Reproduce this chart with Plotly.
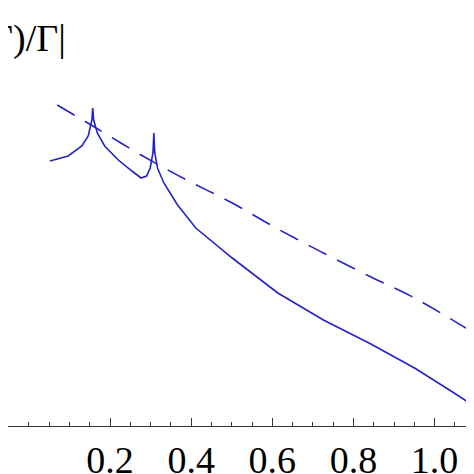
import plotly.graph_objects as go

# values (x in axis units, y in arbitrary units)
px_solid = [0, 20, 35, 42, 46, 47, 48, 52, 60, 75, 90, 100, 106, 110, 113, 114, 115, 118,
            125, 140, 160, 200, 250, 300, 350, 400, 440, 474]
py_solid = [153, 148, 138, 128, 112, 100, 112, 125, 138, 152, 163, 170, 168, 160, 145, 125, 145, 160,
            175, 197, 220, 250, 285, 312, 335, 360, 383, 403]
px_dash = [8, 47, 100, 150, 200, 250, 300, 350, 400, 474]
py_dash = [97, 118, 147, 172, 195, 221, 245, 268, 290, 330]

x_solid = [(p + 23) / 445 for p in px_solid]
y_solid = [(418 - p) / 100 for p in py_solid]
x_dash = [(p + 23) / 445 for p in px_dash]
y_dash = [(418 - p) / 100 for p in py_dash]

blue = '#2323c8'
fig = go.Figure()
fig.add_trace(go.Scatter(x=x_solid, y=y_solid, mode='lines',
                         line=dict(color=blue, width=1.6)))
fig.add_trace(go.Scatter(x=x_dash, y=y_dash, mode='lines',
                         line=dict(color=blue, width=1.6, dash='20px,12px', shape='spline')))

fig.update_layout(
    width=474, height=474, showlegend=False,
    margin=dict(l=0, r=0, t=0, b=56, autoexpand=False),
    plot_bgcolor='white', paper_bgcolor='white',
    font=dict(family='Liberation Serif', color='black'),
    xaxis=dict(range=[-23 / 445, 497 / 445], tickvals=[0.2, 0.4, 0.6, 0.8, 1.0],
               ticktext=['0.2', '0.4', '0.6', '0.8', '1.0'], automargin=False,
               ticks='inside', ticklen=8, tickcolor='#333', showgrid=False, zeroline=False,
               showline=True, linecolor='#333', linewidth=1, tickfont=dict(size=38),
               minor=dict(ticks='inside', dtick=0.05, tick0=0, ticklen=4, tickcolor='#333')),
    yaxis=dict(range=[0, 4.18], visible=False, automargin=False),
    annotations=[dict(text='|Im Σ(Γ)/Γ|', xref='paper', yref='paper', x=60 / 474, y=1 - 30 / 418,
                      xanchor='right', yanchor='middle', showarrow=False, font=dict(size=38))],
)
fig.write_html('out.html')
